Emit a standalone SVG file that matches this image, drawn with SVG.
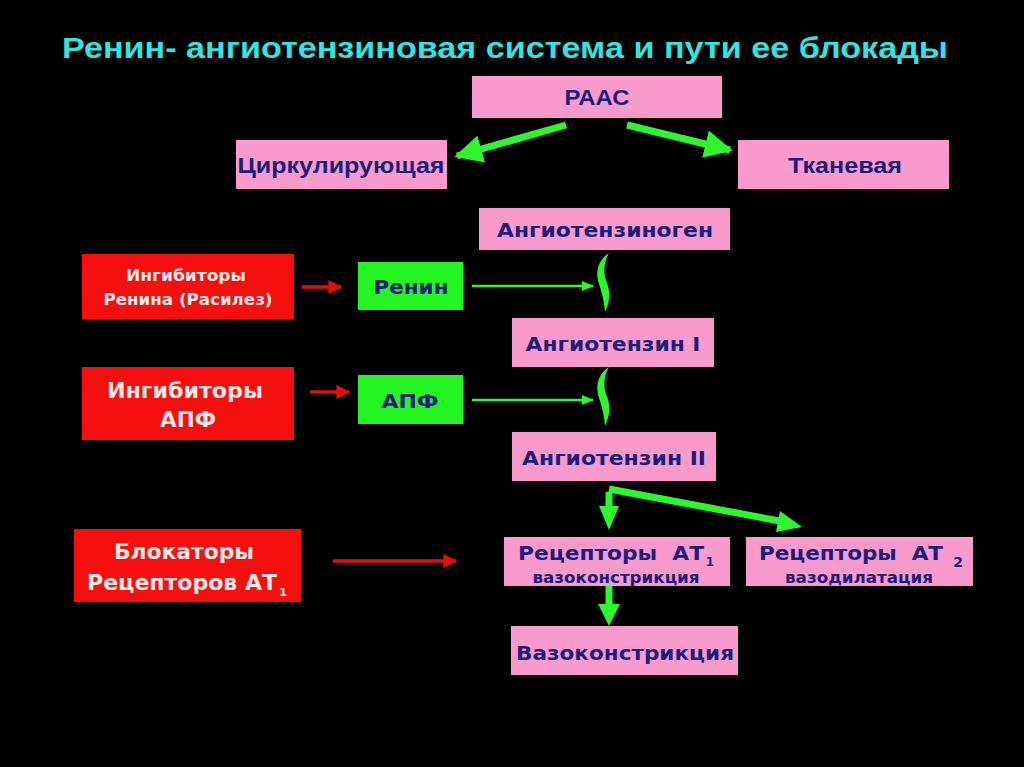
<svg xmlns="http://www.w3.org/2000/svg" width="1024" height="767" viewBox="0 0 1024 767">
<defs>
<style>
.pink{fill:#F89ACB}
.red{fill:#F50F0F}
.grn{fill:#22F522}
.t{font-family:"DejaVu Sans",Verdana,sans-serif;font-weight:bold;fill:#1C1C7A;text-anchor:middle}
.a{font-family:"Liberation Sans",Arial,sans-serif}
.w{font-family:"DejaVu Sans",Verdana,sans-serif;font-weight:bold;fill:#FFE8E8;text-anchor:middle}
.thick{stroke:#2EF52E;stroke-width:7;fill:none}
.thin{stroke:#2EF52E;stroke-width:2.5;fill:none}
.rl{stroke:#E01010;stroke-width:3.5;fill:none}
</style>
<marker id="ga" viewBox="0 0 10 10" refX="9" refY="5" markerWidth="4" markerHeight="4" markerUnits="strokeWidth" orient="auto"><path d="M0,0 L10,5 L0,10 z" fill="#2EF52E"/></marker>
<marker id="gs" viewBox="0 0 10 10" refX="9" refY="5" markerWidth="5" markerHeight="5" markerUnits="strokeWidth" orient="auto"><path d="M0,1 L10,5 L0,9 z" fill="#2EF52E"/></marker>
<marker id="ra" viewBox="0 0 10 10" refX="9" refY="5" markerWidth="4" markerHeight="4" markerUnits="strokeWidth" orient="auto"><path d="M0,0 L10,5 L0,10 z" fill="#E01010"/></marker>
</defs>
<rect width="1024" height="767" fill="#000"/>
<text x="62" y="58" font-family="Liberation Sans,Arial,sans-serif" font-weight="bold" font-size="30" fill="#33E3E0" textLength="886" lengthAdjust="spacingAndGlyphs">Ренин- ангиотензиновая система и пути ее блокады</text>

<g id="raas"><rect class="pink" x="472" y="76" width="250" height="42"/><text class="t a" x="597" y="105" font-size="22" textLength="65" lengthAdjust="spacingAndGlyphs">РААС</text></g>
<g id="circ"><rect class="pink" x="236" y="140" width="211" height="49"/><text class="t a" x="341" y="173" font-size="22" textLength="207" lengthAdjust="spacingAndGlyphs">Циркулирующая</text></g>
<g id="tissue"><rect class="pink" x="738" y="140" width="211" height="49"/><text class="t a" x="845" y="173" font-size="22" textLength="114" lengthAdjust="spacingAndGlyphs">Тканевая</text></g>
<g id="agen"><rect class="pink" x="479" y="208" width="251" height="42"/><text class="t" x="605" y="237" font-size="20" textLength="216" lengthAdjust="spacingAndGlyphs">Ангиотензиноген</text></g>
<g id="inhren"><rect class="red" x="82" y="254" width="212" height="65"/><text class="w" x="186" y="281" font-size="16" textLength="120" lengthAdjust="spacingAndGlyphs">Ингибиторы</text><text class="w" x="188" y="305" font-size="16" textLength="169" lengthAdjust="spacingAndGlyphs">Ренина (Расилез)</text></g>
<g id="renin"><rect class="grn" x="358" y="262" width="105" height="48"/><text class="t" x="411" y="294" font-size="20" textLength="75" lengthAdjust="spacingAndGlyphs">Ренин</text></g>
<g id="ang1"><rect class="pink" x="512" y="318" width="202" height="49"/><text class="t" x="613" y="351" font-size="20" textLength="175" lengthAdjust="spacingAndGlyphs">Ангиотензин I</text></g>
<g id="inhace"><rect class="red" x="82" y="367" width="212" height="73"/><text class="w" x="185" y="398" font-size="21" textLength="156" lengthAdjust="spacingAndGlyphs">Ингибиторы</text><text class="w" x="188" y="427" font-size="21" textLength="56" lengthAdjust="spacingAndGlyphs">АПФ</text></g>
<g id="ace"><rect class="grn" x="358" y="375" width="105" height="49"/><text class="t" x="410" y="408" font-size="20" textLength="57" lengthAdjust="spacingAndGlyphs">АПФ</text></g>
<g id="ang2"><rect class="pink" x="512" y="432" width="204" height="49"/><text class="t" x="614" y="465" font-size="20" textLength="184" lengthAdjust="spacingAndGlyphs">Ангиотензин II</text></g>
<g id="block"><rect class="red" x="74" y="529" width="227" height="73"/><text class="w" x="184" y="559" font-size="21" textLength="140" lengthAdjust="spacingAndGlyphs">Блокаторы</text><text class="w" x="182" y="590" font-size="21" textLength="190" lengthAdjust="spacingAndGlyphs">Рецепторов АТ</text><text class="w" x="283" y="596" font-size="11">1</text></g>
<g id="at1"><rect class="pink" x="504" y="537" width="226" height="49"/><text class="t" x="611" y="560" font-size="20" xml:space="preserve" textLength="186" lengthAdjust="spacingAndGlyphs">Рецепторы  АТ</text><text class="t" x="710" y="566" font-size="12">1</text><text class="t" x="616" y="583" font-size="15" textLength="167" lengthAdjust="spacingAndGlyphs">вазоконстрикция</text></g>
<g id="at2"><rect class="pink" x="746" y="537" width="227" height="49"/><text class="t" x="851" y="560" font-size="20" xml:space="preserve" textLength="184" lengthAdjust="spacingAndGlyphs">Рецепторы  АТ</text><text class="t" x="958" y="567" font-size="14">2</text><text class="t" x="859" y="583" font-size="15" textLength="148" lengthAdjust="spacingAndGlyphs">вазодилатация</text></g>
<g id="vaso"><rect class="pink" x="511" y="626" width="227" height="49"/><text class="t" x="625" y="660" font-size="20" textLength="218" lengthAdjust="spacingAndGlyphs">Вазоконстрикция</text></g>

<g id="connectors">
<line class="thick" x1="566" y1="125" x2="457" y2="156" marker-end="url(#ga)"/>
<line class="thick" x1="627" y1="125" x2="730" y2="150" marker-end="url(#ga)"/>
<line class="rl" x1="302" y1="287" x2="341" y2="287" marker-end="url(#ra)"/>
<line class="rl" x1="310" y1="392" x2="349" y2="392" marker-end="url(#ra)"/>
<line class="rl" x1="333" y1="561" x2="456" y2="561" marker-end="url(#ra)"/>
<line class="thin" x1="472" y1="286" x2="593" y2="286" marker-end="url(#gs)"/>
<line class="thin" x1="472" y1="400" x2="593" y2="400" marker-end="url(#gs)"/>
<path fill="#2EF52E" d="M609,253 C598,260 595,272 599,284 C602,293 604,301 605,312 C611,300 610,289 606,280 C603,271 604,262 609,253 z"/>
<path fill="#2EF52E" d="M609,367 C598,374 595,386 599,398 C602,407 604,415 605,426 C611,414 610,403 606,394 C603,385 604,376 609,367 z"/>
<path class="thick" d="M609,492 L609,508"/>
<path fill="#2EF52E" d="M599,506 L619,506 L609,530 z"/>
<path class="thick" d="M609,489 L785,522"/>
<path fill="#2EF52E" d="M780,511 L802,527 L776,532 z"/>
<path class="thick" d="M609,586 L609,606"/>
<path fill="#2EF52E" d="M598,604 L620,604 L609,626 z"/>
</g>
</svg>
